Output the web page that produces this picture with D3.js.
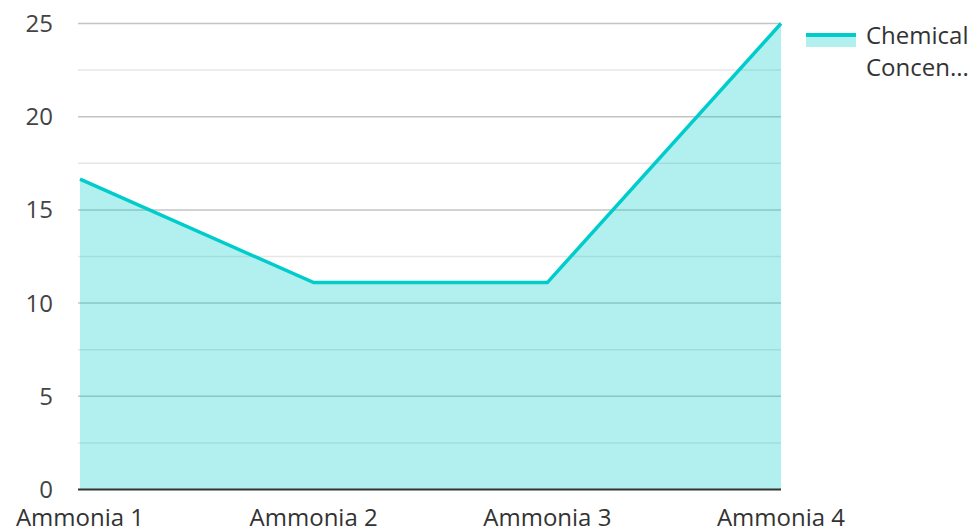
<!DOCTYPE html>
<html><head><meta charset="utf-8">
<script src="https://cdn.jsdelivr.net/npm/d3@7"></script>
<style>body{margin:0;background:#fff}svg{display:block;font-family:"Open Sans",sans-serif}</style>
</head><body><svg id="c" width="975" height="531"></svg>
<script>
const categories = ["Ammonia 1","Ammonia 2","Ammonia 3","Ammonia 4"];
const values = [16.65, 11.1, 11.1, 25];
const yTicks = [0,5,10,15,20,25];
const yMinorTicks = [2.5,7.5,12.5,17.5,22.5];
const seriesName = "Chemical Concentration";

const svg = d3.select("#c");
const x = d3.scalePoint().domain(categories).range([80,781]);
const y = d3.scaleLinear().domain([0,25]).range([489.5,23.5]);

const g = svg.append("g");
g.selectAll(".minor").data(yMinorTicks).join("line")
  .attr("x1",78).attr("x2",781).attr("y1",d=>y(d)).attr("y2",d=>y(d))
  .attr("stroke","#e6e6e6").attr("stroke-width",1.5);
g.selectAll(".major").data(yTicks.filter(d=>d>0)).join("line")
  .attr("x1",78).attr("x2",781).attr("y1",d=>y(d)).attr("y2",d=>y(d))
  .attr("stroke","#c4c4c4").attr("stroke-width",1.5);

const data = categories.map((c,i)=>({c,v:values[i]}));
g.append("path").datum(data)
  .attr("d", d3.area().x(d=>x(d.c)).y0(y(0)).y1(d=>y(d.v)))
  .attr("fill","#00c9c9").attr("fill-opacity",0.3);
g.append("path").datum(data)
  .attr("d", d3.line().x(d=>x(d.c)).y(d=>y(d.v)))
  .attr("fill","none").attr("stroke","#00cccc").attr("stroke-width",3.5).attr("stroke-linejoin","miter");

g.append("line").attr("x1",78).attr("x2",781).attr("y1",y(0)).attr("y2",y(0))
  .attr("stroke","#333").attr("stroke-width",2);

g.selectAll(".yl").data(yTicks).join("text")
  .attr("x",53).attr("y",d=>y(d)).attr("dy","0.35em").attr("text-anchor","end")
  .attr("font-size",24).attr("fill","#444").text(d=>d);

g.selectAll(".xl").data(categories).join("text")
  .attr("x",d=>x(d)).attr("y",526).attr("text-anchor","middle")
  .attr("font-size",24).attr("fill","#333").text(d=>d);

// legend
const lg = svg.append("g");
lg.append("rect").attr("x",806).attr("y",35).attr("width",50).attr("height",12)
  .attr("fill","#00c9c9").attr("fill-opacity",0.3);
lg.append("line").attr("x1",806).attr("x2",856).attr("y1",35).attr("y2",35)
  .attr("stroke","#00cccc").attr("stroke-width",4);
lg.append("text").attr("x",866).attr("y",44).attr("font-size",24).attr("fill","#333").text("Chemical");
lg.append("text").attr("x",866).attr("y",76).attr("font-size",24).attr("fill","#333").text("Concen...");
</script></body></html>
